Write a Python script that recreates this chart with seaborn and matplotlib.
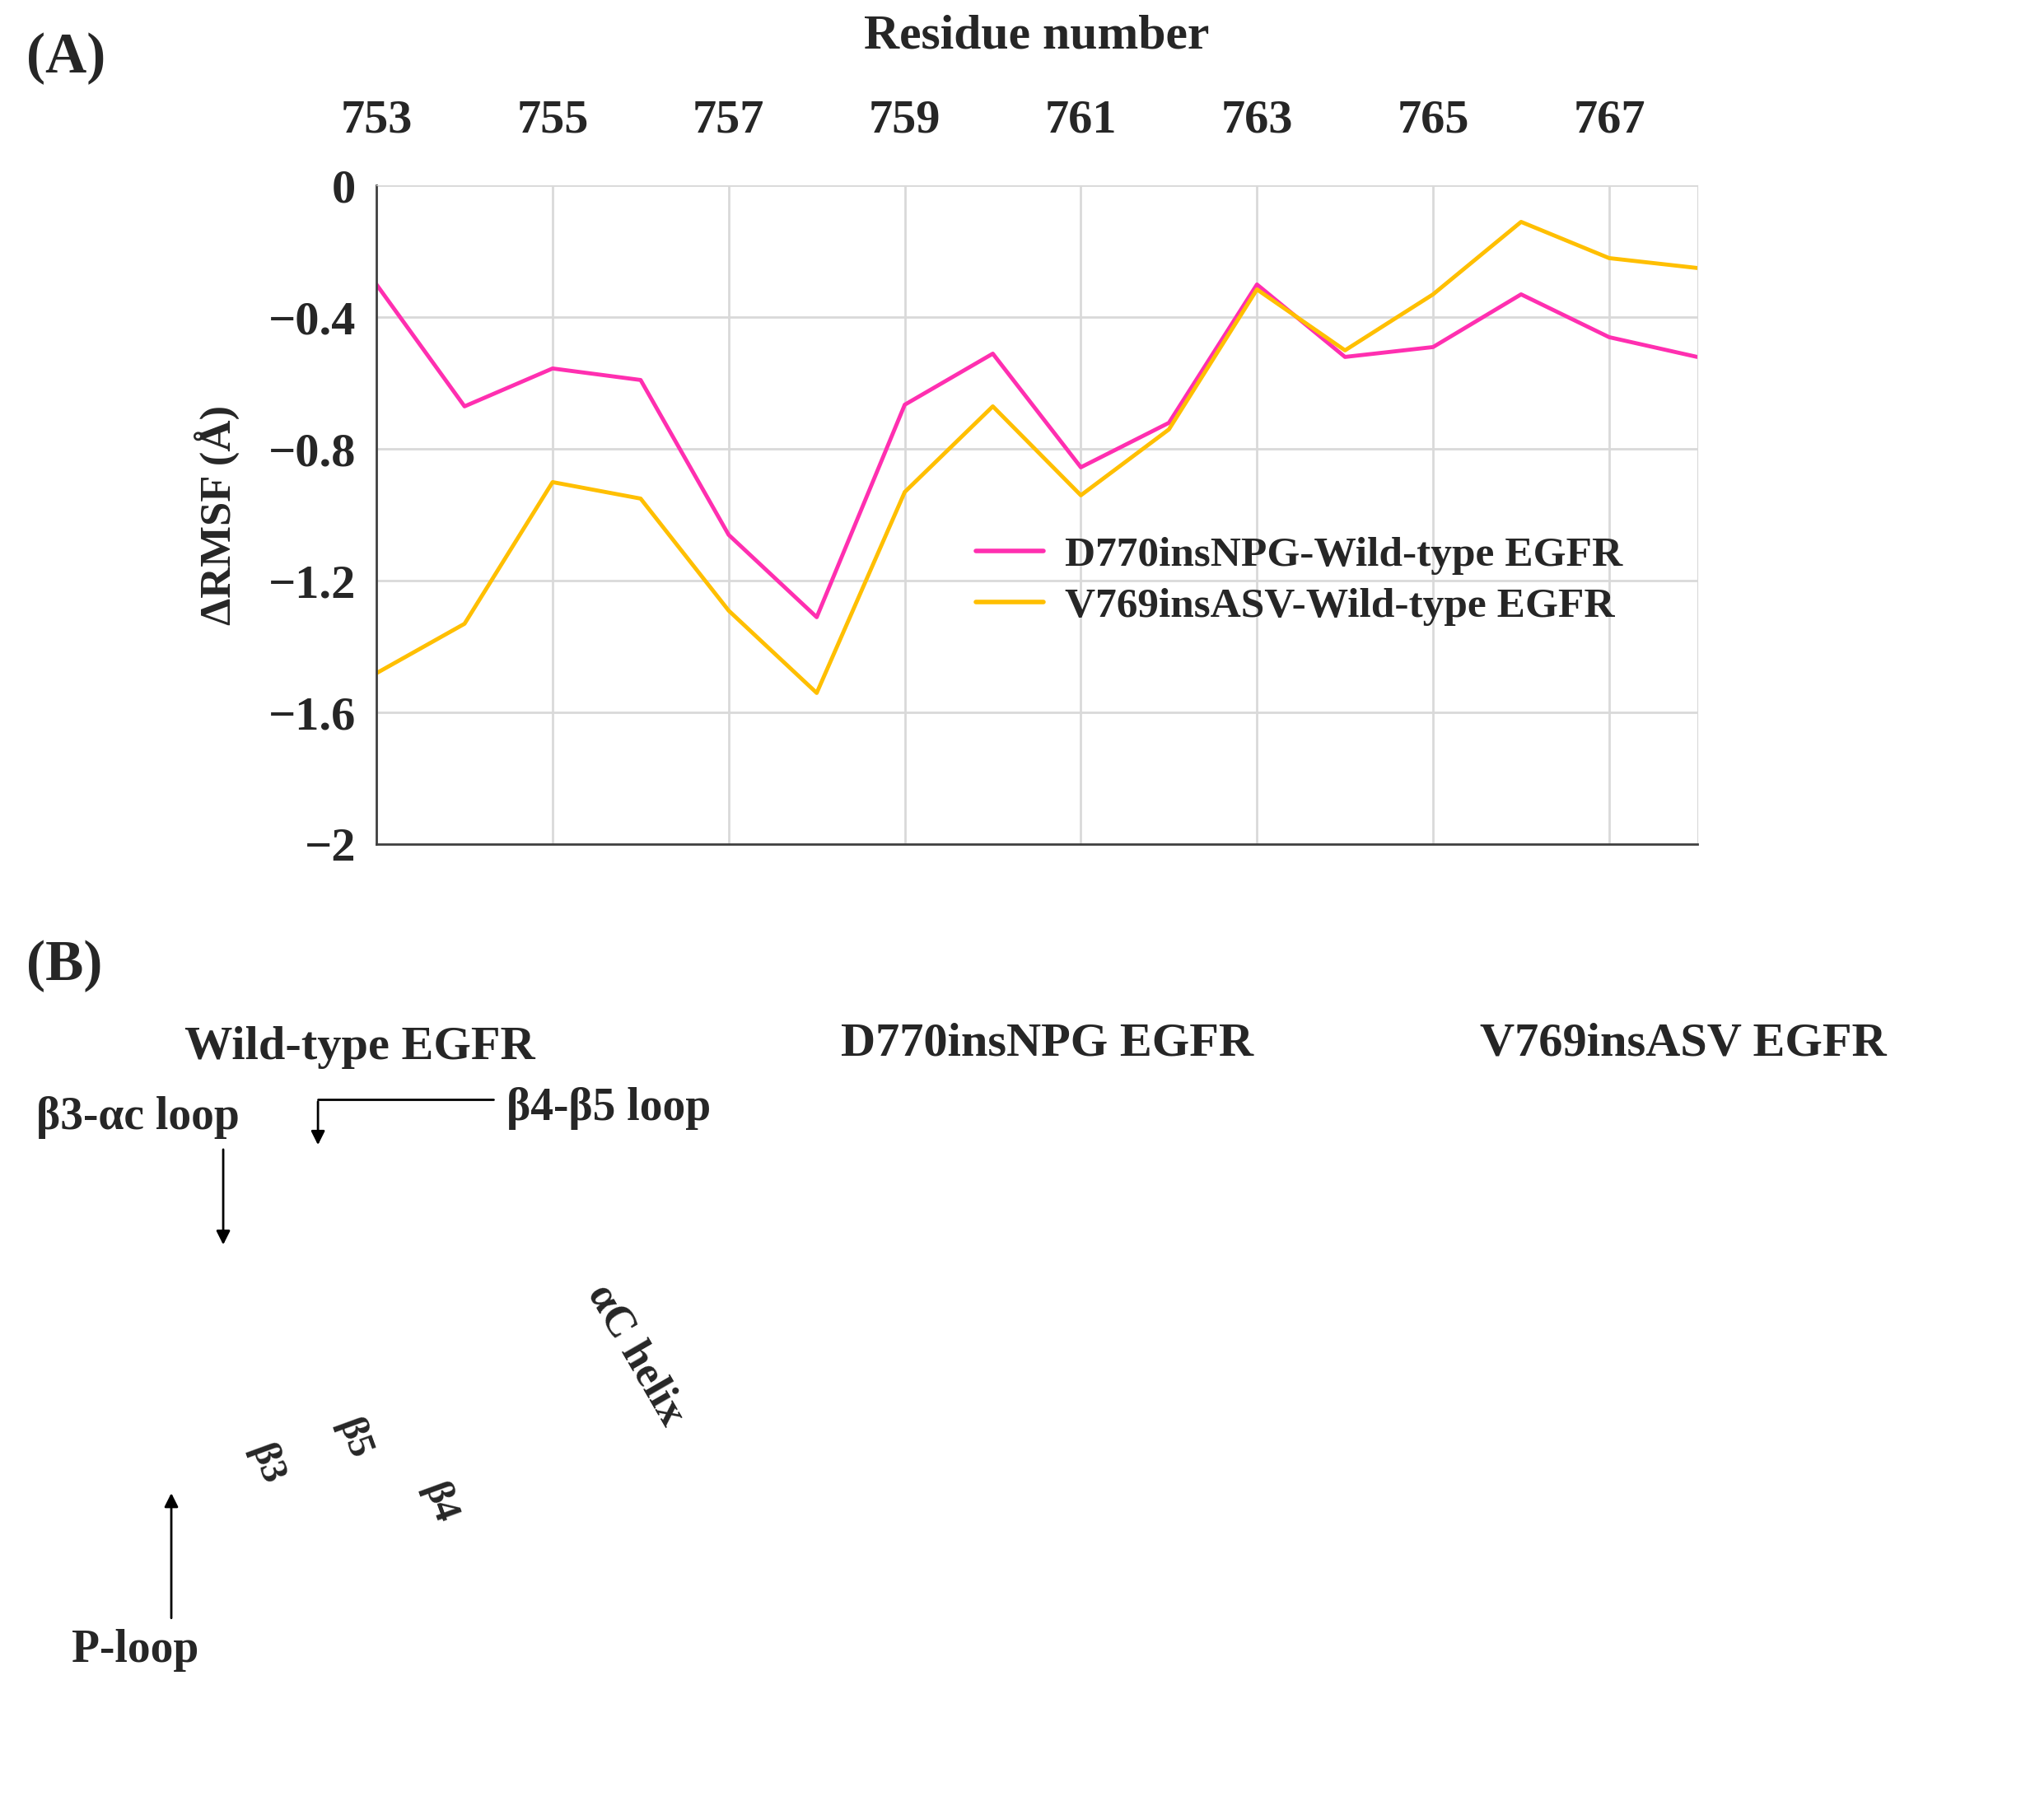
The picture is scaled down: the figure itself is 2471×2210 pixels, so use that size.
import matplotlib
matplotlib.use("Agg")
import matplotlib.pyplot as plt
import seaborn as sns
import pandas as pd

residues = list(range(753, 769))
npg = [-0.30, -0.67, -0.555, -0.59, -1.06, -1.31, -0.665, -0.51, -0.855, -0.72, -0.30, -0.52, -0.49, -0.33, -0.46, -0.52]
asv = [-1.48, -1.33, -0.90, -0.95, -1.29, -1.54, -0.93, -0.67, -0.94, -0.74, -0.315, -0.50, -0.33, -0.11, -0.22, -0.25]
series_names = ["D770insNPG-Wild-type EGFR", "V769insASV-Wild-type EGFR"]
colors = ["#ff2fb0", "#ffbf00"]
xticks = list(range(753, 768, 2))
yticks = [0, -0.4, -0.8, -1.2, -1.6, -2]
ylabels = ["0", "\u22120.4", "\u22120.8", "\u22121.2", "\u22121.6", "\u22122"]

sns.set_style("white")
plt.rcParams['font.family'] = ['Liberation Serif', 'DejaVu Serif']
plt.rcParams['font.weight'] = 'bold'

df = pd.DataFrame({"Residue": residues * 2, "dRMSF": npg + asv,
                   "Series": [series_names[0]] * 16 + [series_names[1]] * 16})

W, H = 1568.0, 1404.0
def fx(x): return x / W
def fy(y): return 1 - y / H

fig = plt.figure(figsize=(24.71, 22.10), dpi=100)
ax = fig.add_axes([0.185, 0.536, 0.649, 0.362])
sns.lineplot(data=df, x="Residue", y="dRMSF", hue="Series", palette=colors, ax=ax, linewidth=3.5)
ax.set_xlim(753, 768)
ax.set_ylim(-2, 0)
ax.xaxis.tick_top()
ax.xaxis.set_label_position("top")
ax.set_xticks(xticks)
ax.set_xticklabels([str(t) for t in xticks], fontsize=42, fontweight='bold')
ax.set_yticks(yticks)
ax.set_yticklabels(ylabels, fontsize=42, fontweight='bold')
ax.tick_params(axis='x', length=0, pad=38)
ax.tick_params(axis='y', length=0, pad=18)
ax.set_xlabel("Residue number", fontsize=43, fontweight='bold', labelpad=45)
ax.set_ylabel("\u0394RMSF (\u00c5)", fontsize=38, fontweight='bold', labelpad=25)
ax.grid(True, color="#d9d9d9", linewidth=2)
for s in ["top", "right"]:
    ax.spines[s].set_color("#d9d9d9")
for s in ["left", "bottom"]:
    ax.spines[s].set_color("#404040")
    ax.spines[s].set_linewidth(2)
leg = ax.legend(loc="center left", bbox_to_anchor=(0.425, 0.40), frameon=False,
                handlelength=1.6, handletextpad=0.5, labelspacing=0.3, prop={'weight': 'bold', 'size': 37})
for l in leg.get_lines():
    l.set_linewidth(4)

fig.text(fx(20), fy(45), "(A)", fontsize=50, fontweight='bold', va='center')
fig.text(fx(20), fy(745), "(B)", fontsize=50, fontweight='bold', va='center')
fs = 42
fig.text(fx(277), fy(808), "Wild-type EGFR", fontsize=fs, fontweight='bold', ha='center', va='center')
fig.text(fx(807), fy(805), "D770insNPG EGFR", fontsize=fs, fontweight='bold', ha='center', va='center')
fig.text(fx(1297), fy(805), "V769insASV EGFR", fontsize=fs, fontweight='bold', ha='center', va='center')
fig.text(fx(28), fy(862), "\u03b23-\u03b1c loop", fontsize=40, fontweight='bold', va='center')
fig.text(fx(390), fy(855), "\u03b24-\u03b25 loop", fontsize=40, fontweight='bold', va='center')
fig.text(fx(55), fy(1273), "P-loop", fontsize=40, fontweight='bold', va='center')
fig.text(fx(490), fy(1045), "\u03b1C helix", fontsize=38, fontweight='bold', rotation=-60, ha='center', va='center')
fig.text(fx(205), fy(1130), "\u03b23", fontsize=34, fontweight='bold', rotation=-70, ha='center', va='center')
fig.text(fx(272), fy(1110), "\u03b25", fontsize=34, fontweight='bold', rotation=-70, ha='center', va='center')
fig.text(fx(338), fy(1160), "\u03b24", fontsize=34, fontweight='bold', rotation=-70, ha='center', va='center')

arrow = dict(arrowstyle='-|>', color='black', lw=2, mutation_scale=25)
fig.patches.append(matplotlib.patches.FancyArrowPatch((fx(172), fy(885)), (fx(172), fy(962)),
                   transform=fig.transFigure, **arrow))
fig.patches.append(matplotlib.patches.FancyArrowPatch((fx(132), fy(1250)), (fx(132), fy(1150)),
                   transform=fig.transFigure, **arrow))
fig.add_artist(plt.Line2D([fx(380), fx(245)], [fy(848), fy(848)], transform=fig.transFigure, color='black', lw=2))
fig.patches.append(matplotlib.patches.FancyArrowPatch((fx(245), fy(848)), (fx(245), fy(885)),
                   transform=fig.transFigure, **arrow))
fig.savefig("out.png", dpi=100)
